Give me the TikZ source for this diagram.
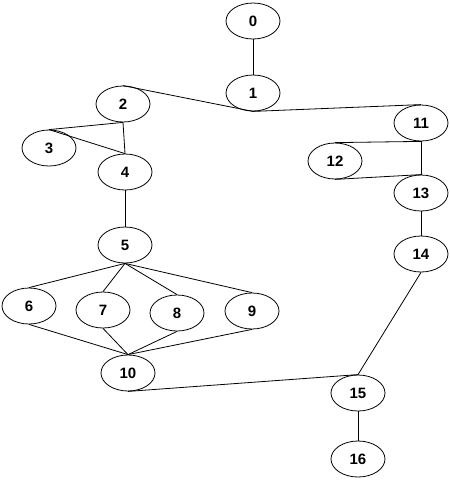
\documentclass[tikz,border=0pt]{standalone}
\usepackage{fontspec}
\setmainfont{Liberation Sans}
\usetikzlibrary{shapes.geometric}

\tikzset{
  vtx/.style={draw, ellipse, minimum width=54pt, minimum height=36pt, inner sep=0pt, font=\fontsize{15}{15}\selectfont\bfseries},
  edge/.style={line width=0.8pt}
}

\begin{document}
\begin{tikzpicture}[x=1pt,y=-1pt,line width=0.8pt]

\useasboundingbox (0,0) rectangle (450,480);

\node[vtx] (n0) at (253,21) {0};
\node[vtx] (n1) at (253,93) {1};
\node[vtx] (n2) at (123,104) {2};
\node[vtx] (n3) at (49,148) {3};
\node[vtx] (n4) at (125,172) {4};
\node[vtx] (n5) at (125,245) {5};
\node[vtx] (n6) at (29,306) {6};
\node[vtx] (n7) at (103,310) {7};
\node[vtx] (n8) at (177,313) {8};
\node[vtx] (n9) at (252,311) {9};
\node[vtx] (n10) at (128,373) {10};
\node[vtx] (n11) at (421,123) {11};
\node[vtx] (n12) at (335,161) {12};
\node[vtx] (n13) at (421,193) {13};
\node[vtx] (n14) at (421,254) {14};
\node[vtx] (n15) at (358,393) {15};
\node[vtx] (n16) at (358,459) {16};

\foreach \a/\b in {0/1,1/2,1/11,2/3,2/4,4/5,5/6,5/7,5/8,5/9,6/10,7/10,8/10,9/10,10/15,11/12,11/13,12/13,13/14,14/15,15/16}
  \draw[edge] (n\a.south) -- (n\b.north);
\draw[edge] (n3.north) -- (n4.north);

\end{tikzpicture}
\end{document}
